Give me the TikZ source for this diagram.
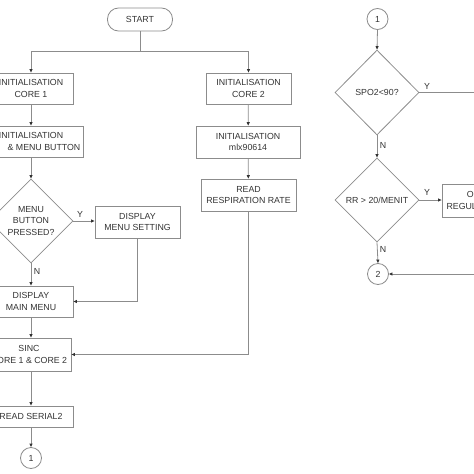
\documentclass[tikz,border=0pt]{standalone}
\usepackage{fontspec}
\setmainfont{Liberation Sans}
\usetikzlibrary{shapes.geometric,arrows.meta}
\definecolor{ln}{HTML}{8C8C8C}
\definecolor{tx}{HTML}{333333}
\tikzset{
  every node/.style={font=\fontsize{8.8}{11.5}\selectfont, text=tx},
  box/.style={draw=ln, line width=0.8pt, rectangle, align=center, inner sep=0pt, minimum height=31pt},
  term/.style={draw=ln, line width=0.8pt, rectangle, rounded corners=11pt, inner sep=0pt, minimum width=65pt, minimum height=23pt},
  dec/.style={draw=ln, line width=0.8pt, diamond, align=center, inner sep=0pt, minimum width=84pt, minimum height=84pt},
  conn/.style={draw=ln, line width=0.8pt, circle, inner sep=0pt, minimum size=21pt},
  wire/.style={draw=ln, line width=0.8pt},
  arr/.style={wire, -{Triangle[length=3.5pt,width=3pt,color=tx]}},
  lab/.style={inner sep=0pt}
}
\begin{document}
\begin{tikzpicture}[x=1pt,y=-1pt]
\useasboundingbox (0,0) rectangle (474,474);
\clip (0,0) rectangle (474,474);
% left column
\node[term] (start) at (140,19.5) {START};
\node[box, minimum width=84pt] (c1) at (31,88.5) {INITIALISATION\\CORE 1};
\node[box, minimum width=104pt] (lcd) at (31,141.5) {INITIALISATION\\\hphantom{LCDX }\& MENU BUTTON};
\node[dec] (d1) at (31,221) {MENU\\BUTTON\\PRESSED?};
\node[box, minimum width=85pt, minimum height=32pt] (dms) at (137.5,222) {DISPLAY\\MENU SETTING};
\node[box, minimum width=84pt] (dmm) at (31,301.5) {DISPLAY\\MAIN MENU};
\node[box, minimum width=84pt, minimum height=33pt] (sinc) at (29,354.5) {SINC\\CORE 1 \& CORE 2};
\node[box, minimum width=84pt, minimum height=21pt] (ser) at (31,416.5) {READ SERIAL2};
\node[conn] (k1) at (31,458) {1};
% middle column
\node[box, minimum width=85pt] (c2) at (248.5,88.5) {INITIALISATION\\CORE 2};
\node[box, minimum width=104pt, minimum height=32pt] (mlx) at (248,142) {INITIALISATION\\mlx90614};
\node[box, minimum width=95pt, minimum height=32pt] (resp) at (248.5,195) {READ\\RESPIRATION RATE};
% right column
\node[conn] (k1b) at (377.5,19) {1};
\node[dec, minimum height=85pt] (d2) at (377,92.5) {SPO2<90?};
\node[dec] (d3) at (377,200) {RR > 20/MENIT};
\node[box, minimum width=63pt, minimum height=33pt] (on) at (473.5,200.5) {ON\\REGULATOR};
\node[conn] (k2) at (378,274) {2};
\coordinate (split) at (140,51);
\coordinate (yend) at (480,92.5);
\coordinate (back) at (480,274);
% connectors
\draw[wire] (start.south) -- (split);
\draw[arr] (split) -| (c1.north);
\draw[arr] (split) -| (c2.north);
\draw[arr] (c1) -- (lcd);
\draw[arr] (lcd.south) -- (d1.north);
\draw[arr] (d1.east) -- (d1.east -| dms.west);
\draw[arr] (d1.south) -- (dmm.north);
\draw[arr] (dms.south) |- (dmm.east);
\draw[arr] (dmm.south) -- (dmm.south |- sinc.north);
\draw[arr] (sinc.south -| ser.north) -- (ser.north);
\draw[arr] (ser.south) -- (k1.north);
\draw[arr] (c2) -- (mlx);
\draw[arr] (mlx) -- (resp);
\draw[arr] (resp.south) |- (sinc.east);
\draw[arr] (k1b.south) -- (d2.north);
\draw[wire] (d2.east) -- (yend);
\draw[arr] (d2.south) -- (d3.north);
\draw[arr] (d3.east) -- (d3.east -| on.west);
\draw[arr] (d3.south) -- (k2.north);
\draw[arr] (back) -- (k2.east);
% labels
\node[lab] (ly1) at (80,214) {Y};
\node[lab] (ln1) at (37,271) {N};
\node[lab] (ly2) at (427,86) {Y};
\node[lab] (ln2) at (383,145) {N};
\node[lab] (ly3) at (427,192) {Y};
\node[lab] (ln3) at (383,249) {N};
\end{tikzpicture}
\end{document}
